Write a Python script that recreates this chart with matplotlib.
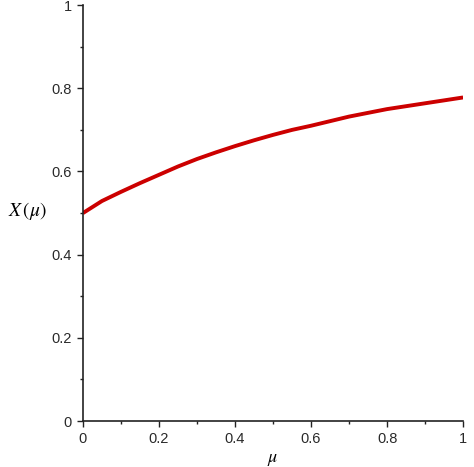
import matplotlib
matplotlib.use('Agg')
import matplotlib.pyplot as plt

# values
mu = [0.0, 0.05, 0.1, 0.15, 0.2, 0.25, 0.3, 0.35, 0.4, 0.45, 0.5,
      0.55, 0.6, 0.65, 0.7, 0.75, 0.8, 0.85, 0.9, 0.95, 1.0]
x_mu = [0.500, 0.529, 0.551, 0.572, 0.592, 0.612, 0.630, 0.646, 0.661, 0.675, 0.688,
        0.700, 0.710, 0.721, 0.732, 0.741, 0.750, 0.757, 0.764, 0.771, 0.778]
major_ticks = [0, 0.2, 0.4, 0.6, 0.8, 1]
tick_labels = ['0', '0.2', '0.4', '0.6', '0.8', '1']
minor_ticks = [0.1, 0.3, 0.5, 0.7, 0.9]

plt.rcParams['mathtext.fontset'] = 'stix'

fig = plt.figure(figsize=(4.74, 4.67), dpi=100)
ax = fig.add_axes([0.175, 0.0985, 0.802, 0.8905])

ax.plot(mu, x_mu, color='#cc0000', linewidth=2.8, solid_capstyle='butt')

ax.set_xlim(0, 1)
ax.set_ylim(0, 1)
for s in ['top', 'right']:
    ax.spines[s].set_visible(False)
for s in ['left', 'bottom']:
    ax.spines[s].set_linewidth(1.2)
    ax.spines[s].set_color('#222222')

ax.set_xticks(major_ticks)
ax.set_xticklabels(tick_labels)
ax.set_yticks(major_ticks)
ax.set_yticklabels(tick_labels)
ax.set_xticks(minor_ticks, minor=True)
ax.set_yticks(minor_ticks, minor=True)
ax.tick_params(which='major', length=4.5, width=1, color='#222222',
               labelsize=10.5, labelcolor='#2a2a2a', pad=3.5)
ax.tick_params(which='minor', length=2.5, width=1, color='#222222')
for lab in ax.get_xticklabels() + ax.get_yticklabels():
    lab.set_family('Liberation Sans')

ax.set_xlabel(r'$\mu$', fontsize=13)
ax.xaxis.set_label_coords(0.5, -0.07)
ax.set_ylabel(r'$X\,(\mu)$', fontsize=14, rotation=0, va='center', ha='center')
ax.yaxis.set_label_coords(-0.145, 0.505)

fig.savefig('out.png', dpi=100)
